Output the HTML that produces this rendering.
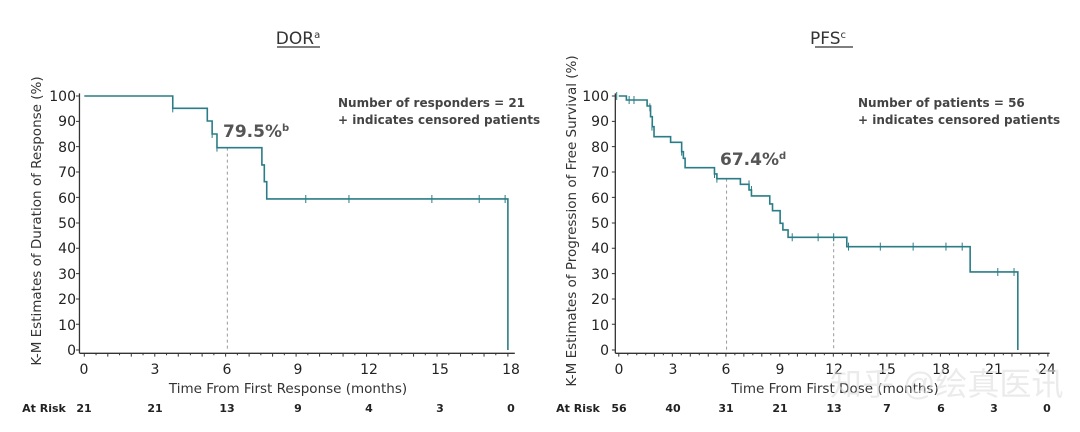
<!DOCTYPE html>
<html><head><meta charset="utf-8"><style>
html,body{margin:0;padding:0;background:#fff;}
svg{display:block;font-family:"DejaVu Sans","Liberation Sans",sans-serif;}
</style></head><body>
<svg width="1080" height="432" viewBox="0 0 1080 432" xmlns="http://www.w3.org/2000/svg">
<rect width="1080" height="432" fill="#fff"/>
<!-- Titles -->
<text x="298" y="44" font-size="17" text-anchor="middle" fill="#333">DOR<tspan font-size="10" dy="-6">a</tspan></text>
<line x1="277" y1="47" x2="320" y2="47" stroke="#333" stroke-width="1.2"/>
<text x="828" y="44" font-size="17" text-anchor="middle" fill="#333">PFS<tspan font-size="10" dy="-6">c</tspan></text>
<line x1="815" y1="47" x2="853" y2="47" stroke="#333" stroke-width="1.2"/>

<!-- LEFT CHART -->
<g transform="translate(0,20) scale(0.3455,0.3333)">
  <line x1="230" y1="220" x2="230" y2="1000" stroke="#333" stroke-width="1.3" vector-effect="non-scaling-stroke"/>
  <line x1="230" y1="1000" x2="1490" y2="1000" stroke="#333" stroke-width="1.3" vector-effect="non-scaling-stroke"/>
  <g stroke="#333" stroke-width="1">
    <path vector-effect="non-scaling-stroke" d="M244 1000v10M278 1000v6M312 1000v10M346 1000v6M380 1000v10M414 1000v6M448 1000v10M482 1000v6M516 1000v10M551 1000v6M585 1000v10M619 1000v6M653 1000v10M687 1000v6M721 1000v10M755 1000v6M789 1000v10M823 1000v6M857 1000v10M891 1000v6M925 1000v10M959 1000v6M993 1000v10M1027 1000v6M1061 1000v10M1095 1000v6M1129 1000v10M1163 1000v6M1197 1000v10M1231 1000v6M1265 1000v10M1299 1000v6M1333 1000v10M1367 1000v6M1401 1000v10M1435 1000v6M1470 1000v10"/>
    <path vector-effect="non-scaling-stroke" d="M220 228h10M220 304h10M220 380h10M220 456h10M220 532h10M220 609h10M220 685h10M220 761h10M220 837h10M220 913h10M220 990h10"/>
  </g>
  <line x1="658" y1="383" x2="658" y2="990" stroke="#999" stroke-width="1" stroke-dasharray="3,3" vector-effect="non-scaling-stroke"/>
  <path d="M244 228H500V265H600V303H614V342H628V383H758V435H765V485H772V537H1470V990" fill="none" stroke="#2a7d86" stroke-width="1.6" vector-effect="non-scaling-stroke"/>
  <path d="M500 253v24M614 330v24M628 371v24M885 525v24M1010 525v24M1250 525v24M1387 525v24M1462 525v24" stroke="#2a7d86" stroke-width="1" vector-effect="non-scaling-stroke"/>
</g>
<g font-size="14" fill="#222" text-anchor="end">
  <text x="76" y="101">100</text><text x="76" y="126">90</text><text x="76" y="152">80</text><text x="76" y="177">70</text><text x="76" y="203">60</text><text x="76" y="228">50</text><text x="76" y="253">40</text><text x="76" y="279">30</text><text x="76" y="304">20</text><text x="76" y="330">10</text><text x="76" y="355">0</text>
</g>
<g font-size="14" fill="#222" text-anchor="middle">
  <text x="84" y="374">0</text><text x="155" y="374">3</text><text x="227" y="374">6</text><text x="298" y="374">9</text><text x="369" y="374">12</text><text x="440" y="374">15</text><text x="511" y="374">18</text>
</g>
<text x="288" y="393" font-size="13.5" fill="#333" text-anchor="middle">Time From First Response (months)</text>
<text transform="translate(41,221) rotate(-90)" font-size="13.5" fill="#333" text-anchor="middle">K-M Estimates of Duration of Response (%)</text>
<text x="223" y="137" font-size="17" font-weight="bold" fill="#555">79.5%<tspan font-size="10" dy="-6">b</tspan></text>
<text x="338" y="107" font-size="12" font-weight="bold" fill="#444">Number of responders = 21</text>
<text x="338" y="124" font-size="12" font-weight="bold" fill="#444">+ indicates censored patients</text>
<g font-size="11" font-weight="bold" fill="#222" text-anchor="middle">
  <text x="44" y="412">At Risk</text>
  <text x="84" y="412">21</text><text x="155" y="412">21</text><text x="227" y="412">13</text><text x="298" y="412">9</text><text x="369" y="412">4</text><text x="440" y="412">3</text><text x="511" y="412">0</text>
</g>

<!-- RIGHT CHART -->
<g transform="translate(540,20) scale(0.3455,0.3333)">
  <line x1="218" y1="220" x2="218" y2="1000" stroke="#333" stroke-width="1.3" vector-effect="non-scaling-stroke"/>
  <line x1="218" y1="1000" x2="1475" y2="1000" stroke="#333" stroke-width="1.3" vector-effect="non-scaling-stroke"/>
  <path vector-effect="non-scaling-stroke" stroke="#333" stroke-width="1" d="M228 1000v10M254 1000v6M280 1000v6M306 1000v6M331 1000v10M357 1000v6M383 1000v10M409 1000v6M435 1000v10M461 1000v6M487 1000v10M512 1000v6M538 1000v10M564 1000v6M590 1000v10M616 1000v6M642 1000v10M668 1000v6M694 1000v10M720 1000v6M745 1000v10M771 1000v6M797 1000v10M823 1000v6M849 1000v10M875 1000v6M901 1000v10M927 1000v6M952 1000v10M978 1000v6M1004 1000v10M1030 1000v6M1056 1000v10M1082 1000v6M1108 1000v10M1134 1000v6M1159 1000v10M1185 1000v6M1211 1000v10M1237 1000v6M1263 1000v10M1289 1000v6M1315 1000v10M1341 1000v6M1366 1000v10M1392 1000v6M1418 1000v10M1444 1000v6M1470 1000v10"/>
  <path vector-effect="non-scaling-stroke" stroke="#333" stroke-width="1" d="M208 228h10M208 304h10M208 380h10M208 456h10M208 532h10M208 609h10M208 685h10M208 761h10M208 837h10M208 913h10M208 990h10"/>
  <path d="M540 476V990M850 652V990" stroke="#999" stroke-width="1" stroke-dasharray="3,3" vector-effect="non-scaling-stroke"/>
  <path d="M228 228H250V240H310V258H320V290H325V320H330V350H378V367H410V395H415V415H420V443H505V462H512V476H580V493H605V510H612V528H665V552H673V572H695V610H703V630H718V652H888V680H1245V756H1383V990" fill="none" stroke="#2a7d86" stroke-width="1.6" vector-effect="non-scaling-stroke"/>
  <path d="M222 216v24M258 228v24M272 228v24M318 250v24M324 308v24M410 383v24M505 450v24M512 464v24M605 481v24M612 498v24M730 640v24M805 640v24M850 640v24M893 668v24M985 668v24M1080 668v24M1175 668v24M1222 668v24M1325 744v24M1372 744v24" stroke="#2a7d86" stroke-width="1" vector-effect="non-scaling-stroke"/>
</g>
<g font-size="14" fill="#222" text-anchor="end">
  <text x="609" y="101">100</text><text x="609" y="126">90</text><text x="609" y="152">80</text><text x="609" y="177">70</text><text x="609" y="203">60</text><text x="609" y="228">50</text><text x="609" y="253">40</text><text x="609" y="279">30</text><text x="609" y="304">20</text><text x="609" y="330">10</text><text x="609" y="355">0</text>
</g>
<g font-size="14" fill="#222" text-anchor="middle">
  <text x="619" y="374">0</text><text x="673" y="374">3</text><text x="726" y="374">6</text><text x="780" y="374">9</text><text x="834" y="374">12</text><text x="887" y="374">15</text><text x="941" y="374">18</text><text x="994" y="374">21</text><text x="1047" y="374">24</text>
</g>
<text x="835" y="393" font-size="13.5" fill="#333" text-anchor="middle">Time From First Dose (months)</text>
<text transform="translate(576,221) rotate(-90)" font-size="13.5" fill="#333" text-anchor="middle">K-M Estimates of Progression of Free Survival (%)</text>
<text x="720" y="165" font-size="17" font-weight="bold" fill="#555">67.4%<tspan font-size="10" dy="-6">d</tspan></text>
<text x="858" y="107" font-size="12" font-weight="bold" fill="#444">Number of patients = 56</text>
<text x="858" y="124" font-size="12" font-weight="bold" fill="#444">+ indicates censored patients</text>
<g font-size="11" font-weight="bold" fill="#222" text-anchor="middle">
  <text x="578" y="412">At Risk</text>
  <text x="619" y="412">56</text><text x="673" y="412">40</text><text x="726" y="412">31</text><text x="780" y="412">21</text><text x="834" y="412">13</text><text x="887" y="412">7</text><text x="941" y="412">6</text><text x="994" y="412">3</text><text x="1047" y="412">0</text>
</g>
<text x="830" y="395" font-size="32" fill="#ddd" fill-opacity="0.6" font-family="'Liberation Sans','Noto Sans CJK SC',sans-serif">知乎 @绘真医讯</text>
</svg>
</body></html>
